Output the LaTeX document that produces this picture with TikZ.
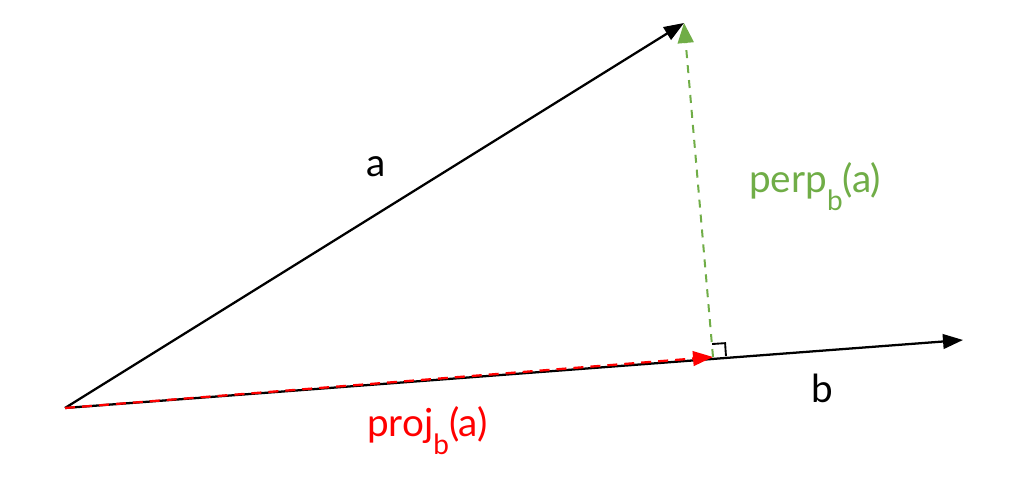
\documentclass[tikz,border=0pt]{standalone}
\usepackage{fontspec}
\setmainfont{Lato}
\usetikzlibrary{arrows.meta,calc}
\definecolor{perpgreen}{RGB}{112,173,71}
\definecolor{projred}{RGB}{255,0,0}
\newcommand{\subb}{\raisebox{-13pt}{\fontsize{21pt}{21pt}\selectfont b}}
\tikzset{
  vec/.style={line width=1.7pt,-{Triangle[length=15pt,width=11pt]}},
  projvec/.style={line width=1.7pt,projred,dash pattern=on 7.5pt off 5.25pt,-{Triangle[length=15pt,width=11pt]}},
  perpvec/.style={line width=1.5pt,perpgreen,dash pattern=on 6pt off 5.25pt,-{Triangle[length=15pt,width=12pt,color=perpgreen]}},
  lbl/.style={font=\fontsize{29pt}{29pt}\selectfont,inner sep=0pt,anchor=base west},
  rightangle/.style={line width=1.4pt}
}
\begin{document}
\begin{tikzpicture}[x=0.75pt,y=-0.75pt]
\useasboundingbox (0,0) rectangle (1024,498);
\coordinate (O) at (65,408);
\coordinate (A) at (684,23);
\coordinate (F) at (713,357);
\coordinate (B) at (963,340);
% b
\draw[vec] (O) -- (B);
% a
\draw[vec] (O) -- (A);
% proj
\draw[projvec] (O) -- (F);
% perp
\draw[perpvec] (F) -- (A);
% right angle
\coordinate (P1) at ($(F)!9.75pt!(B)$);
\coordinate (P2) at ($(F)!9.75pt!90:(B)$);
\coordinate (P3) at ($(P1)!9.75pt!-90:(F)$);
\draw[rightangle] (P1) -- (P3) -- (P2);
% labels
\node[lbl] (la) at (366,177) {a};
\node[lbl] (lb) at (811,403) {b};
\node[lbl,text=perpgreen] (lperp) at (749,193) {perp\subb(a)};
\node[lbl,text=projred] (lproj) at (367,437) {proj\subb(a)};
\end{tikzpicture}
\end{document}
